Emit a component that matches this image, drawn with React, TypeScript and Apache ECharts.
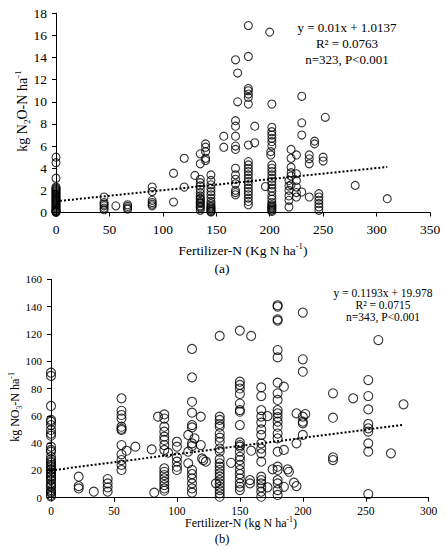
import React, { useEffect, useRef } from "react";
import * as echarts from "echarts";

// (a) N2O-N emission vs fertilizer rate: [fertilizer N, kg N2O-N/ha]
const n2oPoints: [number, number][] = [
  [0, 5.0], [0, 4.5], [0, 3.1], [0, 2.3], [0, 2.2], [0, 2.1], [0, 2.0], [0, 1.9], [0, 1.8], [0, 1.7], [0, 1.6], [0, 1.5], [0, 1.4], [0, 1.3], [0, 1.2], [0, 1.1], [0, 1.0], [0, 0.9], [0, 0.8], [0, 0.7], [0, 0.6], [0, 0.5], [0, 0.4], [0, 0.3], [0, 0.2], [0, 0.15], [0, 0.1], [0, 0.05], [0, 0.02],
  [45, 1.4], [45, 0.9], [45, 0.75], [45, 0.6], [45, 0.4], [45, 0.25],
  [56, 0.6],
  [67, 0.7], [67, 0.55], [67, 0.4], [67, 0.3],
  [90, 2.3], [90, 1.9], [90, 1.1], [90, 0.9], [90, 0.75], [90, 0.6],
  [110, 3.55], [110, 0.95],
  [120, 4.9], [120, 2.3],
  [130, 3.35],
  [135, 5.3], [135, 4.4], [135, 3.0], [135, 2.7], [135, 2.4], [135, 2.1], [135, 1.8], [135, 1.5], [135, 1.3], [135, 1.2], [135, 1.0], [135, 0.9], [135, 0.8], [135, 0.6], [135, 0.5], [135, 0.4], [135, 0.2],
  [140, 6.2], [140, 5.9], [140, 5.5], [140, 4.9], [140, 4.7],
  [145, 3.4], [145, 2.9], [145, 2.5], [145, 2.2], [145, 1.9], [145, 1.6], [145, 1.3], [145, 1.0], [145, 0.8], [145, 0.6], [145, 0.5], [145, 0.4], [145, 0.3], [145, 0.2], [145, 0.1], [145, 0.05],
  [157, 6.9], [157, 5.9],
  [168, 13.8], [168, 8.3], [168, 7.8], [168, 6.9], [168, 6.0], [168, 5.7], [168, 4.0], [168, 3.4], [168, 3.0], [168, 2.6], [168, 2.0], [168, 1.8], [168, 1.6],
  [170, 12.6], [170, 10.0],
  [180, 16.9], [180, 14.1], [180, 11.2], [180, 11.0], [180, 10.7], [180, 10.4], [180, 9.8], [180, 6.1], [180, 4.6], [180, 4.3], [180, 4.0], [180, 3.7], [180, 3.4], [180, 3.1], [180, 2.8], [180, 2.5], [180, 2.2], [180, 1.9], [180, 1.6], [180, 1.3], [180, 1.0], [180, 0.7],
  [186, 7.8], [186, 6.3],
  [196, 2.35],
  [200, 16.3],
  [202, 9.8], [202, 7.7], [202, 7.3], [202, 7.0], [202, 6.7], [202, 6.4], [202, 6.0], [201, 5.5], [201, 5.2], [202, 4.3], [202, 4.0], [202, 3.7], [202, 3.4], [202, 3.1], [202, 2.8], [202, 2.5], [202, 2.2], [202, 1.9], [202, 1.5], [202, 1.2], [202, 0.9], [202, 0.7], [202, 0.6], [202, 0.5], [202, 0.4], [202, 0.3], [202, 0.2], [202, 0.1],
  [218, 2.9], [218, 2.4], [218, 2.0], [218, 1.5], [218, 1.1], [218, 0.5],
  [220, 5.7], [220, 4.9], [220, 4.1], [220, 3.6], [220, 3.3], [220, 2.5],
  [225, 5.2], [225, 3.5], [225, 2.9], [225, 2.3], [225, 1.8], [225, 1.4],
  [230, 10.5], [230, 8.1], [230, 7.0], [230, 1.85],
  [237, 5.2], [237, 4.85], [237, 4.4], [237, 1.4],
  [242, 6.45], [242, 6.2],
  [246, 1.7], [246, 1.4], [246, 1.1], [246, 0.8], [246, 0.5], [246, 0.2],
  [250, 5.0], [250, 4.65],
  [252, 8.6],
  [280, 2.45],
  [310, 1.25],
];

// (b) NO3-N leaching vs fertilizer rate: [fertilizer N, kg NO3-N/ha]
const no3Points: [number, number][] = [
  [0, 91.6], [0, 89.2], [0, 67.2], [0, 57], [0, 55.7], [0, 53.2], [0, 49.6], [0, 47], [0, 45.4], [0, 37.4], [0, 35], [0, 33.7], [0, 30], [0, 28], [0, 26.5], [0, 25.6], [0, 24], [0, 22.7], [0, 21], [0, 20.3], [0, 18.5], [0, 17.8], [0, 16], [0, 15.4], [0, 13.5], [0, 12.9], [0, 10.5], [0, 9], [0, 8], [0, 5.6], [0, 4.5], [0, 3.7], [0, 2], [0, 1],
  [22, 15.4], [22, 8.5], [22, 6.8],
  [34, 4.4],
  [45, 13.7], [45, 10.5], [45, 7.6], [45, 4.4],
  [56, 72.8], [56, 63.7], [56, 60.6], [56, 58], [56, 52], [56, 50.5], [56, 49.6], [56, 38.6], [56, 31.8], [56, 27.6], [56, 24], [56, 20.3],
  [60, 34.4], [67, 37.4], [80, 35.4], [82, 3.7], [85, 59.4],
  [90, 61], [90, 58], [90, 52], [90, 48.4], [90, 44.7], [90, 42.3], [90, 38.6], [90, 35], [90, 21.5], [90, 19], [90, 16.6], [90, 14.2], [90, 11.7], [90, 9.3], [90, 6.8], [90, 5.1],
  [93, 33],
  [100, 41], [100, 37.4], [100, 29.6], [100, 26.4], [100, 22.7], [100, 20.3],
  [109, 46], [109, 33.7], [109, 25.2],
  [112, 109], [112, 88.2], [112, 70.3], [112, 62.3], [112, 53.2], [112, 51.5], [112, 39.8], [112, 37.9], [112, 20.3], [112, 17.3], [112, 14.2], [112, 10.5], [112, 6.8], [112, 3.7],
  [114, 43.5],
  [119, 59.4], [119, 38.6], [120, 28.8], [121, 27.6], [123, 26.4],
  [131, 10.5],
  [134, 118.5], [134, 59.4], [134, 57], [134, 54], [134, 52], [134, 47], [134, 44], [134, 41], [134, 36], [134, 33.7], [134, 28.3], [134, 25.2], [134, 22.7], [134, 20.3], [134, 17.8], [134, 15.4], [134, 12.9], [134, 10.5], [134, 8], [134, 5.6], [134, 3.2], [134, 0.7],
  [143, 25.6],
  [150, 122.4], [150, 85], [150, 82.6], [150, 80], [150, 76], [150, 69], [150, 64.2], [150, 63], [150, 53.2], [150, 40.5], [150, 38.6], [150, 37.4], [150, 33.7], [150, 30], [150, 27.6], [150, 24], [150, 20.3], [150, 17.3], [150, 14.2], [150, 10.5], [150, 8], [150, 5.6],
  [159, 118.5], [159, 34.4], [158, 12.9], [158, 10.5],
  [167, 80.8], [167, 74.5], [167, 64.2], [167, 59.4], [167, 55], [167, 50], [167, 46], [167, 39.8], [167, 36], [167, 32.5], [167, 26.4], [167, 15.4], [167, 12.9], [167, 10.5], [167, 7.6], [167, 4.4], [167, 0.7],
  [172, 59.8], [172, 7.6], [176, 20.8],
  [180, 141], [180, 140], [180, 130.7], [180, 129.7], [180, 108.2], [180, 102.8], [180, 84.3], [180, 76.5], [180, 71.6], [180, 64.2], [180, 61.8], [180, 59], [180, 55.7], [180, 52], [180, 47], [180, 43.5], [180, 33.7], [180, 22.7], [180, 20.3], [180, 12.9], [180, 10.5], [180, 5.6], [180, 2],
  [185, 81.3], [185, 35], [185, 8],
  [188, 20.8], [189, 19], [193, 11],
  [195, 39.8], [195, 8.5], [195, 61.8],
  [200, 135.6], [200, 101.4], [200, 92.3], [200, 59.4], [200, 55.7], [200, 54.5], [200, 46],
  [202, 61.3],
  [224, 76.5], [224, 58.6], [224, 29.6], [224, 27.6],
  [240, 72.8],
  [252, 86.2], [252, 74.5], [252, 64.7], [252, 54], [252, 50.8], [252, 48.4], [252, 39.8], [252, 33.7], [252, 2.7],
  [260, 115.5], [270, 32.5], [280, 68.4],
];

// fitted trend lines as printed on the chart
const n2oTrend = { slope: 0.01, intercept: 1.0137, xEnd: 310 };
const no3Trend = { slope: 0.1193, intercept: 19.978, xEnd: 280 };

const n2oStats = ["y = 0.01x + 1.0137", "R² = 0.0763", "n=323, P<0.001"];
const no3Stats = ["y = 0.1193x + 19.978", "R² = 0.0715", "n=343, P<0.001"];

const FONT = "'Liberation Serif', 'Times New Roman', serif";

function trendData(t: { slope: number; intercept: number; xEnd: number }) {
  return [
    [0, t.intercept],
    [t.xEnd, t.slope * t.xEnd + t.intercept],
  ];
}

function axisCommon(fontSize: number, margin: number) {
  return {
    axisLine: { show: true, lineStyle: { color: "#000", width: 1 } },
    axisTick: { show: true, length: 4, lineStyle: { color: "#000", width: 1 } },
    axisLabel: { color: "#000", fontFamily: FONT, fontSize, margin },
    splitLine: { show: false },
  };
}

function richBase(fontSize: number) {
  return {
    a: { fontSize, fontFamily: FONT, fill: "#000", lineHeight: fontSize + 4, verticalAlign: "middle" },
    sub: { fontSize: fontSize * 0.65, fontFamily: FONT, fill: "#000", lineHeight: fontSize * 0.65, verticalAlign: "bottom" },
    sup: { fontSize: fontSize * 0.65, fontFamily: FONT, fill: "#000", lineHeight: fontSize * 0.65, verticalAlign: "top" },
  };
}

function richText(x: number, y: number, text: string, fontSize: number, rotation = 0) {
  return {
    type: "text",
    x,
    y,
    rotation,
    style: {
      text,
      fontSize,
      fontFamily: FONT,
      fill: "#000",
      align: "center",
      verticalAlign: "middle",
      rich: richBase(fontSize),
    },
  };
}

function plainText(x: number, y: number, text: string, fontSize: number) {
  return {
    type: "text",
    x,
    y,
    style: { text, fontSize, fontFamily: FONT, fill: "#000", align: "center", verticalAlign: "middle" },
  };
}

export default function App() {
  const ref = useRef<HTMLDivElement>(null);

  useEffect(() => {
    if (!ref.current) return;
    const chart = echarts.init(ref.current, undefined, { renderer: "svg" });
    const symbolStyle = { color: "rgba(0,0,0,0)", borderColor: "#000", borderWidth: 1.1 };
    const option: any = {
      animation: false,
      backgroundColor: "#fff",
      grid: [
        { left: 56, top: 13.3, width: 374, height: 199.2 },
        { left: 51, top: 279.3, width: 377.7, height: 218.4 },
      ],
      xAxis: [
        { type: "value", gridIndex: 0, min: 0, max: 350, interval: 50, ...axisCommon(13.5, 10) },
        { type: "value", gridIndex: 1, min: 0, max: 300, interval: 50, ...axisCommon(11.5, 7) },
      ],
      yAxis: [
        { type: "value", gridIndex: 0, min: 0, max: 18, interval: 2, ...axisCommon(13.5, 9) },
        { type: "value", gridIndex: 1, min: 0, max: 160, interval: 20, ...axisCommon(11, 9) },
      ],
      series: [
        {
          type: "scatter", xAxisIndex: 0, yAxisIndex: 0, data: n2oPoints,
          symbol: "circle", symbolSize: 8, itemStyle: symbolStyle,
        },
        {
          type: "line", xAxisIndex: 0, yAxisIndex: 0, data: trendData(n2oTrend),
          showSymbol: false, symbol: "none", z: 5,
          lineStyle: { color: "#000", width: 2, type: [2, 2] },
        },
        {
          type: "scatter", xAxisIndex: 1, yAxisIndex: 1, data: no3Points,
          symbol: "circle", symbolSize: 9, itemStyle: symbolStyle,
        },
        {
          type: "line", xAxisIndex: 1, yAxisIndex: 1, data: trendData(no3Trend),
          showSymbol: false, symbol: "none", z: 5,
          lineStyle: { color: "#000", width: 2, type: [2, 2] },
        },
      ],
      graphic: [
        richText(22, 111, "{a|kg N}{sub|2}{a|O-N ha}{sup|-1}", 14, Math.PI / 2),
        richText(243, 250, "{a|Fertilizer-N (Kg N ha}{sup|-1}{a|)}", 13.5),
        plainText(222, 268, "(a)", 13.5),
        plainText(347, 27.3, n2oStats[0], 13),
        plainText(347, 43.3, n2oStats[1], 13),
        plainText(347, 59.3, n2oStats[2], 13),
        richText(15, 407, "{a|kg NO}{sub|3}{a|-N ha}{sup|-1}", 12, Math.PI / 2),
        richText(241, 523, "{a|Fertilizer-N (kg N ha}{sup|-1}{a|)}", 12),
        plainText(222, 539, "(b)", 12.5),
        plainText(383, 293.3, no3Stats[0], 11.5),
        plainText(383, 305, no3Stats[1], 11.5),
        plainText(383, 316.7, no3Stats[2], 11.5),
      ],
    };
    chart.setOption(option);
    return () => chart.dispose();
  }, []);

  return (
    <div
      ref={ref}
      style={{ position: "absolute", left: 0, top: 0, width: 445, height: 550, background: "#fff" }}
    />
  );
}
